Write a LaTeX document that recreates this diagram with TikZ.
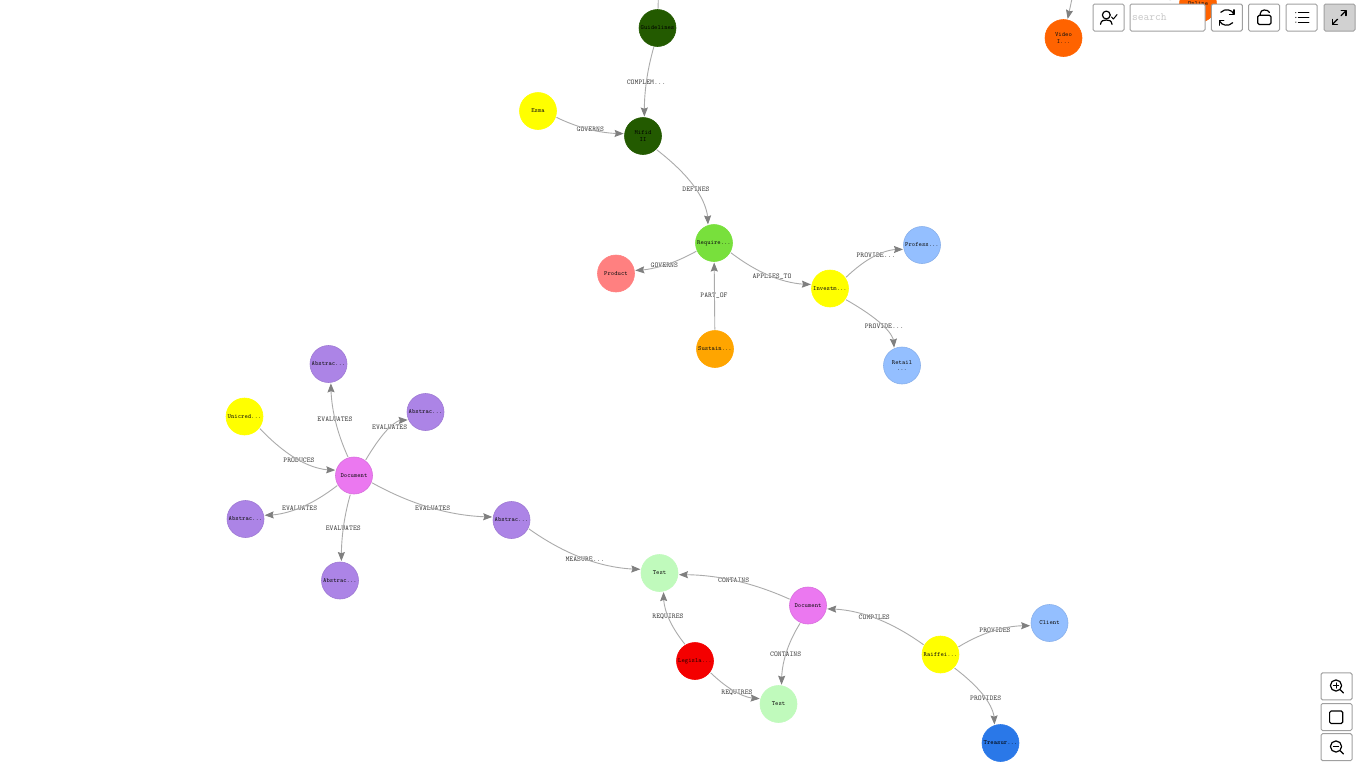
\documentclass[tikz,border=0pt]{standalone}
\usepackage{fontspec}
\setmainfont{Liberation Sans}
\usetikzlibrary{arrows.meta,calc,bending}
\definecolor{dkgreen}{HTML}{235A00}
\definecolor{ltgreen}{HTML}{78E03C}
\definecolor{salmon}{HTML}{FF8080}
\definecolor{amber}{HTML}{FFA500}
\definecolor{vorange}{HTML}{FF6300}
\definecolor{skyb}{HTML}{94BFFF}
\definecolor{deepb}{HTML}{2A78E8}
\definecolor{purp}{HTML}{AC84E6}
\definecolor{pinkp}{HTML}{EB78F0}
\definecolor{mint}{HTML}{C0FABC}
\definecolor{pureyel}{HTML}{FFFF00}
\definecolor{purered}{HTML}{F40000}
\definecolor{edgeline}{HTML}{ABABAB}
\definecolor{tipgray}{HTML}{808080}
\definecolor{labgray}{HTML}{444444}
\definecolor{btnline}{HTML}{A0A0A0}
\definecolor{nodetext}{HTML}{111111}
\tikzset{
  gnode/.style={circle,minimum size=37pt,inner sep=0pt,outer sep=1pt,line width=.6pt,align=center,
    text=nodetext,font=\ttfamily\fontsize{6.35}{6.4}\selectfont},
  yel/.style={gnode,fill=pureyel,draw=pureyel},
  dkg/.style={gnode,fill=dkgreen,draw=dkgreen,text=black},
  vor/.style={gnode,fill=vorange,draw=vorange},
  sky/.style={gnode,fill=skyb,draw=skyb!92!black},
  pur/.style={gnode,fill=purp,draw=purp!92!black},
  pnk/.style={gnode,fill=pinkp,draw=pinkp!92!black},
  mnt/.style={gnode,fill=mint,draw=mint},
  edgeln/.style={draw=edgeline,line width=.9pt,-{Stealth[inset=1.2pt,length=9pt,width=7pt,color=tipgray,flex=1]}},
  elab/.style={font=\ttfamily\fontsize{7.33}{8}\selectfont,text=labgray,inner sep=0pt},
  btn/.style={draw=btnline,line width=1pt,fill=white,rounded corners=1.5pt,minimum height=27pt,minimum width=31pt,inner sep=0pt},
  ico/.style={draw=black,line width=1.2pt,line cap=round,line join=round}
}
% curved connector from node #1 to node #2: a quadratic through the centre of label #3,
% leaving and reaching each node on the border point that faces the label
\newcommand{\qedge}[3]{%
  \path let \p1=(#1), \p2=(#2), \p3=(#3),
    \n1={atan2(\y3-\y1,\x3-\x1)}, \n2={atan2(\y3-\y2,\x3-\x2)} in
    (#1.\n1) coordinate (as) (#2.\n2) coordinate (bs);
  \coordinate (qq) at ($2*(#3)-0.5*(as)-0.5*(bs)$);
  \draw[edgeln] let \p1=(#1), \p2=(#2), \p3=(#3),
    \n1={atan2(\y3-\y1,\x3-\x1)}, \n2={atan2(\y3-\y2,\x3-\x2)} in
    (#1.\n1) .. controls ($(as)!0.6667!(qq)$) and ($(bs)!0.6667!(qq)$) .. (#2.\n2);
}
\begin{document}
\begin{tikzpicture}[x=1pt,y=-1pt]
\path[use as bounding box,clip] (0,0) rectangle (1358,764);
\fill[white] (0,0) rectangle (1358,764);
% nodes
\node[dkg] (guide) at (657.5,28) {Guidelines};
\node[dkg] (mifid) at (643,136) {Mifid\\II};
\node[yel] (esma) at (538,111) {Esma};
\node[gnode,fill=ltgreen,draw=ltgreen] (req) at (714,243) {Require...};
\node[gnode,fill=salmon,draw=salmon] (prod) at (616,273.5) {Product};
\node[gnode,fill=amber,draw=amber] (sust) at (715,349) {Sustain...};
\node[yel] (inv) at (830,288.5) {Investm...};
\node[sky] (prof) at (922,245) {Profess...};
\node[sky] (retail) at (902,365.5) {Retail\\...};
\node[vor] (video) at (1063.5,38) {Video\\I...};
\node[vor] (online) at (1198,4) {Online};
\node[pur] (abtop) at (328.5,364) {Abstrac...};
\node[pur] (abrt) at (425.5,412) {Abstrac...};
\node[yel] (uni) at (244.5,416.5) {Unicred...};
\node[pnk] (doca) at (354,475.5) {Document};
\node[pur] (ablf) at (245.5,519) {Abstrac...};
\node[pur] (abbt) at (340,580.5) {Abstrac...};
\node[pur] (abfar) at (511.5,520) {Abstrac...};
\node[mnt] (testa) at (659.5,573) {Test};
\node[pnk] (docb) at (808,605.5) {Document};
\node[sky] (client) at (1049.5,623) {Client};
\node[yel] (raif) at (940.5,654.5) {Raiffei...};
\node[gnode,fill=purered,draw=purered,text=black!85!red] (legis) at (695,661) {Legisla...};
\node[mnt] (testb) at (778.5,704) {Test};
\node[gnode,fill=deepb,draw=deepb,text=black] (treas) at (1000.5,743) {Treasur...};
\coordinate (topa) at (658.5,-8);
\coordinate (topb) at (1073,-6);
\coordinate (topc) at (1160,-6);
% edge labels
\node[elab] (l1) at (646.3,82.3) {COMPLEM...};
\node[elab] (l2) at (590.3,129.7) {GOVERNS};
\node[elab] (l3) at (696,189) {DEFINES};
\node[elab] (l4) at (664.3,265.3) {GOVERNS};
\node[elab] (l5) at (772,276.7) {APPLIES\_TO};
\node[elab] (l6) at (714,295.7) {PART\_OF};
\node[elab] (l7) at (876,255.3) {PROVIDE...};
\node[elab] (l8) at (884.3,326.7) {PROVIDE...};
\node[elab] (l9) at (299,460.3) {PRODUCES};
\node[elab] (l10) at (335,419.3) {EVALUATES};
\node[elab] (l11) at (389.7,427.3) {EVALUATES};
\node[elab] (l12) at (299.7,508) {EVALUATES};
\node[elab] (l13) at (343.3,528) {EVALUATES};
\node[elab] (l14) at (432.7,508.3) {EVALUATES};
\node[elab] (l15) at (585,559) {MEASURE...};
\node[elab] (l16) at (733.7,580.3) {CONTAINS};
\node[elab] (l17) at (785.7,654.3) {CONTAINS};
\node[elab] (l18) at (874.3,617.7) {COMPILES};
\node[elab] (l19) at (995,630.3) {PROVIDES};
\node[elab] (l20) at (985.7,698.3) {PROVIDES};
\node[elab] (l21) at (668,616.7) {REQUIRES};
\node[elab] (l22) at (737,692.7) {REQUIRES};
% connectors
\draw[edgeln,-] (topa) -- (guide);
\draw[edgeln] (topb) -- (video);
\draw[edgeln] (topc) -- (online);
\qedge{guide}{mifid}{l1}
\qedge{esma}{mifid}{l2}
\qedge{mifid}{req}{l3}
\qedge{req}{prod}{l4}
\qedge{req}{inv}{l5}
\draw[edgeln] (sust) -- (req);
\qedge{inv}{prof}{l7}
\qedge{inv}{retail}{l8}
\qedge{uni}{doca}{l9}
\qedge{doca}{abtop}{l10}
\qedge{doca}{abrt}{l11}
\qedge{doca}{ablf}{l12}
\qedge{doca}{abbt}{l13}
\qedge{doca}{abfar}{l14}
\qedge{abfar}{testa}{l15}
\qedge{docb}{testa}{l16}
\qedge{docb}{testb}{l17}
\qedge{raif}{docb}{l18}
\qedge{raif}{client}{l19}
\qedge{raif}{treas}{l20}
\qedge{legis}{testa}{l21}
\qedge{legis}{testb}{l22}
% toolbar
\node[btn] (bperson) at (1108.5,17.5) {};
\node[btn,minimum width=75pt,text width=71pt,align=left,text=black!22,font=\ttfamily\fontsize{11.2}{12}\selectfont] (bsearch) at (1167.5,17.5) {search};
\node[btn] (brefresh) at (1226.8,17.5) {};
\node[btn] (block) at (1264,17.5) {};
\node[btn] (blist) at (1301.5,17.5) {};
\node[btn,fill=black!18] (bfull) at (1339.5,17.5) {};
\node[btn] (bin) at (1336.5,686.3) {};
\node[btn] (bfit) at (1336.5,717) {};
\node[btn] (bout) at (1336.5,747.2) {};
% person-check icon
\draw[ico] (1106.3,15) circle[radius=3.9];
\draw[ico] (1100.5,24.3) .. controls (1101,20.5) and (1103.5,20) .. (1106.3,20) .. controls (1109,20) and (1111.5,20.5) .. (1112,24.3);
\draw[ico,line width=1pt] (1111.5,17) -- (1113.4,19) -- (1117,14.6);
% refresh icon
\draw[ico] (1233.8,14) .. controls (1232,9.5) and (1225,8) .. (1220.8,12.3);
\draw[ico] (1219.5,21) .. controls (1221.5,25.5) and (1228.5,27) .. (1232.7,22.7);
\draw[ico] (1233.9,9.8) -- (1233.9,14.2) -- (1229.5,14.2);
\draw[ico] (1219.3,25.2) -- (1219.3,20.8) -- (1223.7,20.8);
% lock icon
\draw[ico,rounded corners=1.5pt] (1257.7,15.3) rectangle (1271,24.5);
\draw[ico] (1260.3,15.3) -- (1260.3,13.5) .. controls (1260.3,9) and (1268,9) .. (1269.5,12.5);
% list icon
\draw[ico] (1298.5,12.7) -- (1308.8,12.7);
\draw[ico] (1298.5,17.4) -- (1308.8,17.4);
\draw[ico] (1298.5,22.1) -- (1308.8,22.1);
\fill (1295.8,12.7) circle[radius=.6];
\fill (1295.8,17.4) circle[radius=.6];
\fill (1295.8,22.1) circle[radius=.6];
% fullscreen icon
\draw[ico] (1332.6,24.2) -- (1337.6,19.2);
\draw[ico] (1341,15.8) -- (1346,10.8);
\draw[ico] (1341.2,10.8) -- (1346,10.8) -- (1346,15.6);
\draw[ico] (1332.6,19.4) -- (1332.6,24.2) -- (1337.4,24.2);
% zoom icons
\draw[ico] (1336,685.5) circle[radius=5.6];
\draw[ico] (1340.2,689.7) -- (1343.5,693);
\draw[ico,line width=1pt] (1333.4,685.5) -- (1338.6,685.5) (1336,682.9) -- (1336,688.1);
\draw[ico,rounded corners=1.5pt] (1329.6,711) rectangle (1342.8,723.5);
\draw[ico] (1336,746.5) circle[radius=5.6];
\draw[ico] (1340.2,750.7) -- (1343.5,754);
\draw[ico,line width=1pt] (1333.4,746.5) -- (1338.6,746.5);
\end{tikzpicture}
\end{document}
